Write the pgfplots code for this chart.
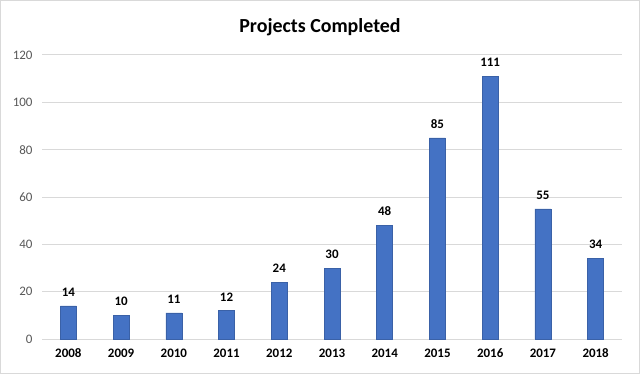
\documentclass[border=0pt]{standalone}
\usepackage{pgfplots}
\pgfplotsset{compat=1.18}
\usepackage{fontspec}
\setmainfont{Carlito}
\definecolor{barblue}{HTML}{4472C4}
\definecolor{gridgray}{HTML}{D9D9D9}
\definecolor{ticktext}{HTML}{595959}
\begin{document}
\begin{tikzpicture}[x=1bp,y=1bp]
\draw[color=gridgray, line width=1bp, fill=white] (0.5,0.5) rectangle (639.5,373.5);
\node[font=\fontsize{20}{24}\selectfont\bfseries, anchor=center] at (320,347) {Projects Completed};
\begin{axis}[
  at={(42bp,35bp)}, anchor=south west,
  scale only axis, width=580bp, height=284bp,
  xmin=-0.5, xmax=10.5, ymin=0, ymax=120,
  ytick={0,20,...,120},
  xtick=data,
  xticklabels={2008,2009,2010,2011,2012,2013,2014,2015,2016,2017,2018},
  axis x line*=bottom,
  axis y line*=left,
  x axis line style={draw=gridgray, line width=1bp},
  y axis line style={draw=none},
  ymajorgrids, grid style={gridgray, line width=1bp},
  major tick length=0pt,
  tick style={draw=none},
  yticklabel style={font=\fontsize{13}{15}\selectfont, text=ticktext, xshift=-6bp},
  xticklabel style={font=\fontsize{13}{15}\selectfont\bfseries, text=black, yshift=-6bp},
  /pgf/number format/assume math mode=true,
  ybar, bar width=16bp,
  nodes near coords,
  every node near coord/.append style={font=\fontsize{13}{15}\selectfont\bfseries, text=black, yshift=6bp},
  clip=false,
]
\addplot[fill=barblue, draw=barblue!85!black, line width=0.5bp] coordinates {
(0,14) (1,10) (2,11) (3,12) (4,24) (5,30) (6,48) (7,85) (8,111) (9,55) (10,34)};
\end{axis}
\end{tikzpicture}
\end{document}
